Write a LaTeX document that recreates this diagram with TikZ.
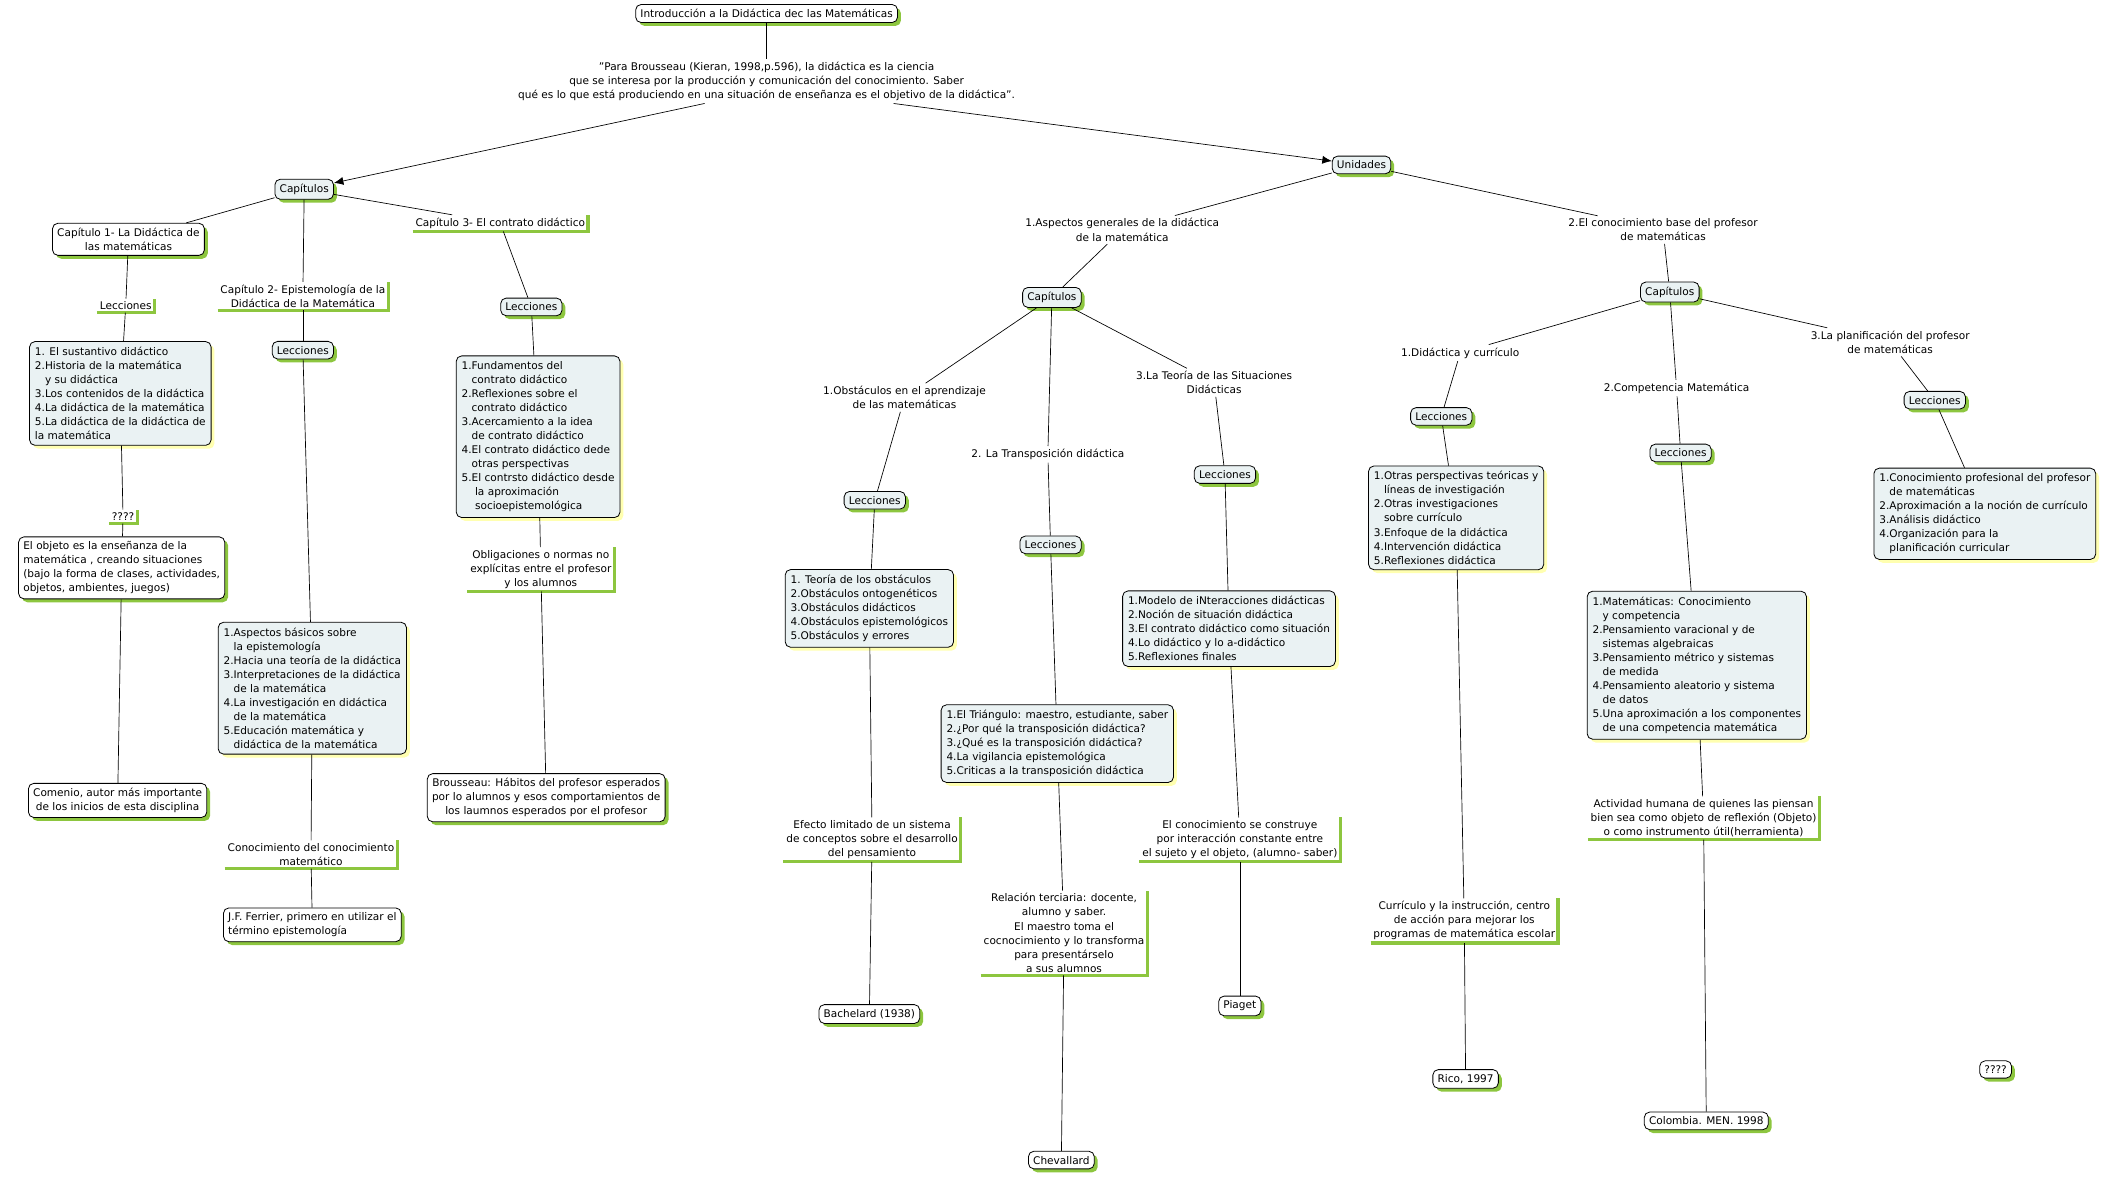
\documentclass[tikz,border=0pt]{standalone}
\usepackage{fontspec}
\setmainfont{DejaVu Sans}
\usetikzlibrary{shadows,arrows.meta}
\definecolor{gr}{HTML}{8DC63F}
\definecolor{yl}{HTML}{FFFFB0}
\definecolor{bx}{HTML}{EAF2F3}
\begin{document}
\begin{tikzpicture}[x=1pt,y=-1pt,
  every node/.style={font=\fontsize{7.8}{10.4}\selectfont,inner sep=2pt},
  wb/.style={draw,rounded corners=4pt,fill=white,align=center,inner sep=3.5pt,line width=0.6pt,
    drop shadow={shadow xshift=2.5pt,shadow yshift=-2.5pt,fill=gr,opacity=1}},
  lb/.style={wb,fill=bx},
  ls/.style={draw,rounded corners=4pt,fill=bx,align=left,inner sep=4pt,line width=0.6pt,
    drop shadow={shadow xshift=2.5pt,shadow yshift=-2.5pt,fill=yl,opacity=1}},
  ow/.style={draw,rounded corners=4pt,fill=white,align=left,inner sep=3.5pt,line width=0.6pt,
    drop shadow={shadow xshift=2.5pt,shadow yshift=-2.5pt,fill=gr,opacity=1}},
  tx/.style={align=center},
  ul/.style={align=center},
  e/.style={line width=0.5pt},
  gl/.style={draw=gr,line width=2.5pt}]
\useasboundingbox (0,0) rectangle (1568,873);
% top
\node[wb] (T) at (567,10) {Introducción a la Didáctica dec las Matemáticas};
\node[tx] (Q) at (567,60) {"Para Brousseau (Kieran, 1998,p.596), la didáctica es la ciencia\\que se interesa por la producción y comunicación del conocimiento. Saber\\qué es lo que está produciendo en una situación de enseñanza es el objetivo de la didáctica".};
\node[lb] (C) at (225,140) {Capítulos};
\node[lb] (U) at (1007,122) {Unidades};
% left
\node[wb] (C1) at (95,177) {Capítulo 1- La Didáctica de\\las matemáticas};
\node[ul] (C2) at (224,219) {Capítulo 2- Epistemología de la\\Didáctica de la Matemática};
\node[ul] (C3) at (370,165) {Capítulo 3- El contrato didáctico};
\node[ul] (L1) at (93,226) {Lecciones};
\node[ls] (LL1) at (89,291) {1. El sustantivo didáctico\\2.Historia de la matemática\\\ \ \ y su didáctica\\3.Los contenidos de la didáctica\\4.La didáctica de la matemática\\5.La didáctica de la didáctica de\\la matemática};
\node[ul] (Q4) at (91,382) {????};
\node[ow] (O1) at (90,420) {El objeto es la enseñanza de la\\matemática , creando situaciones\\(bajo la forma de clases, actividades,\\ objetos, ambientes, juegos)};
\node[wb] (CM) at (87,592) {Comenio, autor más importante\\de los inicios de esta disciplina};
\node[lb] (L2) at (224,259) {Lecciones};
\node[ls] (LL2) at (231,509) {1.Aspectos básicos sobre\\\ \ \ la epistemología\\2.Hacia una teoría de la didáctica\\3.Interpretaciones de la didáctica\\\ \ \ de la matemática\\4.La investigación en didáctica\\\ \ \ de la matemática\\5.Educación matemática y\\\ \ \ didáctica de la matemática};
\node[ul] (CC) at (230,632) {Conocimiento del conocimiento\\matemático};
\node[ow] (JF) at (231,684) {J.F. Ferrier, primero en utilizar el\\término epistemología};
\node[lb] (L3) at (393,227) {Lecciones};
\node[ls] (LL3) at (398,323) {1.Fundamentos del\\\ \ \ contrato didáctico\\2.Reflexiones sobre el\\\ \ \ contrato didáctico\\3.Acercamiento a la idea\\\ \ \ de contrato didáctico\\4.El contrato didáctico dede\\\ \ \ otras perspectivas\\5.El contrsto didáctico desde\\\ \ \ \ la aproximación\\\ \ \ \ socioepistemológica};
\node[ul] (OB) at (400,421) {Obligaciones o normas no\\explícitas entre el profesor\\y los alumnos};
\node[wb] (BR) at (404,590) {Brousseau: Hábitos del profesor esperados\\por lo alumnos y esos comportamientos de\\ los laumnos esperados por el profesor};
% middle
\node[tx] (A1) at (830,170) {1.Aspectos generales de la didáctica\\de la matemática};
\node[tx] (A2) at (1230,170) {2.El conocimiento base del profesor\\de matemáticas};
\node[lb] (CA1) at (778,220) {Capítulos};
\node[tx] (OBS) at (669,294) {1.Obstáculos en el aprendizaje\\de las matemáticas};
\node[tx] (TD) at (775,336) {2. La Transposición didáctica};
\node[tx] (TS) at (898,283) {3.La Teoría de las Situaciones\\Didácticas};
\node[lb] (LO) at (647,370) {Lecciones};
\node[lb] (LT) at (777,403) {Lecciones};
\node[lb] (LS) at (906,351) {Lecciones};
\node[ls] (LLO) at (643,450) {1. Teoría de los obstáculos\\2.Obstáculos ontogenéticos\\3.Obstáculos didácticos\\4.Obstáculos epistemológicos\\5.Obstáculos y errores};
\node[ul] (EL) at (645,621) {Efecto limitado de un sistema\\de conceptos sobre el desarrollo\\del pensamiento};
\node[wb] (BA) at (643,750) {Bachelard (1938)};
\node[ls] (LLT) at (782,550) {1.El Triángulo: maestro, estudiante, saber\\2.¿Por qué la transposición didáctica?\\3.¿Qué es la transposición didáctica?\\4.La vigilancia epistemológica\\5.Criticas a la transposición didáctica};
\node[ul] (RT) at (787,690) {Relación terciaria: docente,\\alumno y saber.\\El maestro toma el\\cocnocimiento y lo transforma\\para presentárselo\\a sus alumnos};
\node[wb] (CH) at (785,858) {Chevallard};
\node[ls] (LLS) at (909,465) {1.Modelo de iNteracciones didácticas\\2.Noción de situación didáctica\\3.El contrato didáctico como situación\\4.Lo didáctico y lo a-didáctico\\5.Reflexiones finales};
\node[ul] (EC) at (917,621) {El conocimiento se construye\\por interacción constante entre\\el sujeto y el objeto, (alumno- saber)};
\node[wb] (PI) at (917,744) {Piaget};
% right
\node[lb] (CA2) at (1235,216) {Capítulos};
\node[tx] (DC) at (1080,261) {1.Didáctica y currículo};
\node[tx] (CMt) at (1240,287) {2.Competencia Matemática};
\node[tx] (PL) at (1398,253) {3.La planificación del profesor\\de matemáticas};
\node[lb] (LD) at (1066,308) {Lecciones};
\node[lb] (LC) at (1243,335) {Lecciones};
\node[lb] (LP) at (1431,296) {Lecciones};
\node[ls] (LLD) at (1077,383) {1.Otras perspectivas teóricas y\\\ \ \ líneas de investigación\\2.Otras investigaciones\\\ \ \ sobre currículo\\3.Enfoque de la didáctica\\4.Intervención didáctica\\5.Reflexiones didáctica};
\node[ul] (CU) at (1083,681) {Currículo y la instrucción, centro\\de acción para mejorar los\\programas de matemática escolar};
\node[wb] (RI) at (1084,798) {Rico, 1997};
\node[ls] (LLC) at (1255,492) {1.Matemáticas: Conocimiento\\\ \ \ y competencia\\2.Pensamiento varacional y de\\\ \ \ sistemas algebraicas\\3.Pensamiento métrico y sistemas\\\ \ \ de medida\\4.Pensamiento aleatorio y sistema\\\ \ \ de datos\\5.Una aproximación a los componentes\\\ \ \ de una competencia matemática};
\node[ul] (AH) at (1260,605) {Actividad humana de quienes las piensan\\bien sea como objeto de reflexión (Objeto)\\o como instrumento útil(herramienta)};
\node[wb] (CO) at (1262,829) {Colombia. MEN. 1998};
\node[ls] (LLP) at (1468,380) {1.Conocimiento profesional del profesor\\\ \ \ de matemáticas\\2.Aproximación a la noción de currículo\\3.Análisis didáctico\\4.Organización para la\\\ \ \ planificación curricular};
\node[wb] (Q5) at (1476,791) {????};
% green underlines
\foreach \n in {C2,C3,L1,Q4,CC,OB,EL,RT,EC,CU,AH}
  \draw[gl] (\n.south west) -- (\n.south east) -- (\n.north east);
% edges
\begin{scope}[on background layer/.try]
\end{scope}
\draw[e] (T) -- (Q);
\draw[e,-{Latex[length=7pt,width=6pt]}] (Q.south west) ++(140,0) -- (C);
\draw[e,-{Latex[length=7pt,width=6pt]}] (Q.south east) ++(-92,0) -- (U);
\foreach \a/\b in {C/C1,C/C2,C/C3,C1/L1,L1/LL1,LL1/Q4,Q4/O1,O1/CM,C2/L2,L2/LL2,LL2/CC,CC/JF,C3/L3,L3/LL3,LL3/OB,OB/BR,
  U/A1,U/A2,A1/CA1,CA1/OBS,CA1/TD,CA1/TS,OBS/LO,TD/LT,TS/LS,LO/LLO,LLO/EL,EL/BA,LT/LLT,LLT/RT,RT/CH,LS/LLS,LLS/EC,EC/PI,
  A2/CA2,CA2/DC,CA2/CMt,CA2/PL,DC/LD,CMt/LC,PL/LP,LD/LLD,LLD/CU,CU/RI,LC/LLC,LLC/AH,AH/CO,LP/LLP}
  \draw[e] (\a) -- (\b);
\end{tikzpicture}
\end{document}
